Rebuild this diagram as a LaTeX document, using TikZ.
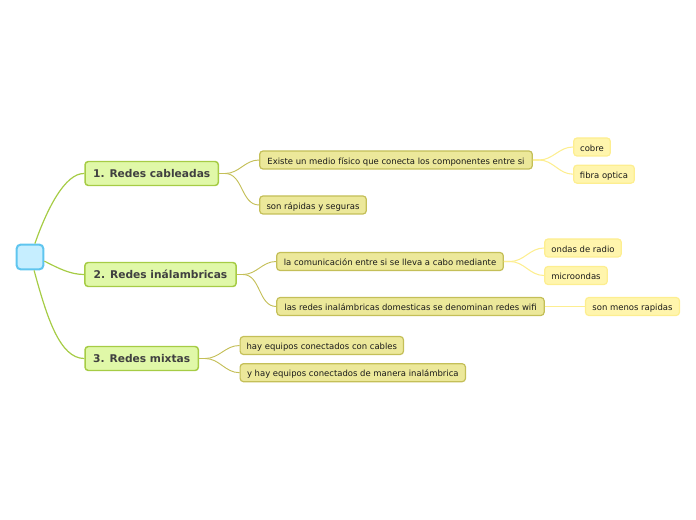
\documentclass[tikz,border=0pt]{standalone}
\usepackage{fontspec}
\setmainfont{DejaVu Sans}
\definecolor{rootfill}{HTML}{C6EEFF}
\definecolor{rootline}{HTML}{5FC5EF}
\definecolor{mainfill}{HTML}{E0F8A8}
\definecolor{mainline}{HTML}{A6CC45}
\definecolor{subfill}{HTML}{ECE89A}
\definecolor{subline}{HTML}{C4BF58}
\definecolor{leaffill}{HTML}{FFF5AD}
\definecolor{leafline}{HTML}{FDEE90}
\begin{document}
\begin{tikzpicture}[x=0.75pt,y=-0.75pt,
    box/.style={rectangle,rounded corners=2.5pt,inner sep=0pt,text height=0.78em,text depth=0.16em},
    rootbox/.style={box,draw=rootline,fill=rootfill,line width=1.5pt,rounded corners=3pt},
    mainbox/.style={box,draw=mainline,fill=mainfill,line width=1.1pt,text=black!75,font=\fontsize{8pt}{10pt}\selectfont\bfseries},
    subbox/.style={box,draw=subline,fill=subfill,line width=0.9pt,text=black!90,font=\fontsize{6.35pt}{8pt}\selectfont},
    leafbox/.style={box,draw=leafline,fill=leaffill,line width=0.9pt,text=black!90,font=\fontsize{6.35pt}{8pt}\selectfont},
    mainlink/.style={draw=mainline,line width=0.9pt},
    sublink/.style={draw=subline,line width=0.7pt},
    leaflink/.style={draw=leafline,line width=0.8pt}]
    \useasboundingbox (0,0) rectangle (696,520);
    % nodes
    \node[rootbox,minimum width=20pt,minimum height=18.6pt] (root) at (30,257) {};
    \node[mainbox,minimum width=100pt,minimum height=18pt] (cableadas) at (151.7,173.5) {1. Redes cableadas};
    \node[mainbox,minimum width=113.5pt,minimum height=18pt] (inalambricas) at (160.5,274.5) {2. Redes inálambricas};
    \node[mainbox,minimum width=85pt,minimum height=18pt] (mixtas) at (141.7,358.5) {3. Redes mixtas};
    \node[subbox,minimum width=204.5pt,minimum height=13.5pt] (medio) at (396,160) {Existe un medio físico que conecta los componentes entre si};
    \node[subbox,minimum width=80pt,minimum height=13.5pt] (rapidas) at (313,205) {son rápidas y seguras};
    \node[subbox,minimum width=170pt,minimum height=13.5pt] (comunicacion) at (390,261.5) {la comunicación entre si se lleva a cabo mediante};
    \node[subbox,minimum width=200.5pt,minimum height=13.5pt] (domesticas) at (410.5,306.5) {las redes inalámbricas domesticas se denominan redes wifi};
    \node[subbox,minimum width=122.5pt,minimum height=13.5pt] (cables) at (321.8,345.5) {hay equipos conectados con cables};
    \node[subbox,minimum width=169pt,minimum height=13.5pt] (manera) at (352.8,372.7) {y hay equipos conectados de manera inalámbrica};
    \node[leafbox,minimum width=27.5pt,minimum height=13.5pt] (cobre) at (592,147) {cobre};
    \node[leafbox,minimum width=45.5pt,minimum height=13.5pt] (fibra) at (604,174.2) {fibra optica};
    \node[leafbox,minimum width=57.5pt,minimum height=13.5pt] (ondas) at (583,248) {ondas de radio};
    \node[leafbox,minimum width=47pt,minimum height=13.5pt] (microondas) at (576,275.5) {microondas};
    \node[leafbox,minimum width=70.5pt,minimum height=13.5pt] (menos) at (632.5,306.5) {son menos rapidas};
    % links
    \draw[mainlink] (root.70) .. controls (47,209) and (65,173) .. (cableadas.west);
    \draw[mainlink] (root.-16) .. controls (58,268) and (70,274.5) .. (inalambricas.west);
    \draw[mainlink] (root.-73) .. controls (47,318) and (60,358.5) .. (mixtas.west);
    \foreach \from/\to in {cableadas/medio,cableadas/rapidas,inalambricas/comunicacion,inalambricas/domesticas,mixtas/cables,mixtas/manera}
        \draw[sublink] (\from.east) -- ++(6,0) to[out=0,in=180] (\to.west);
    \foreach \from/\to in {medio/cobre,medio/fibra,comunicacion/ondas,comunicacion/microondas}
        \draw[leaflink] (\from.east) -- ++(6,0) to[out=0,in=180] (\to.west);
    \draw[leaflink] (domesticas) -- (menos);
\end{tikzpicture}
\end{document}
